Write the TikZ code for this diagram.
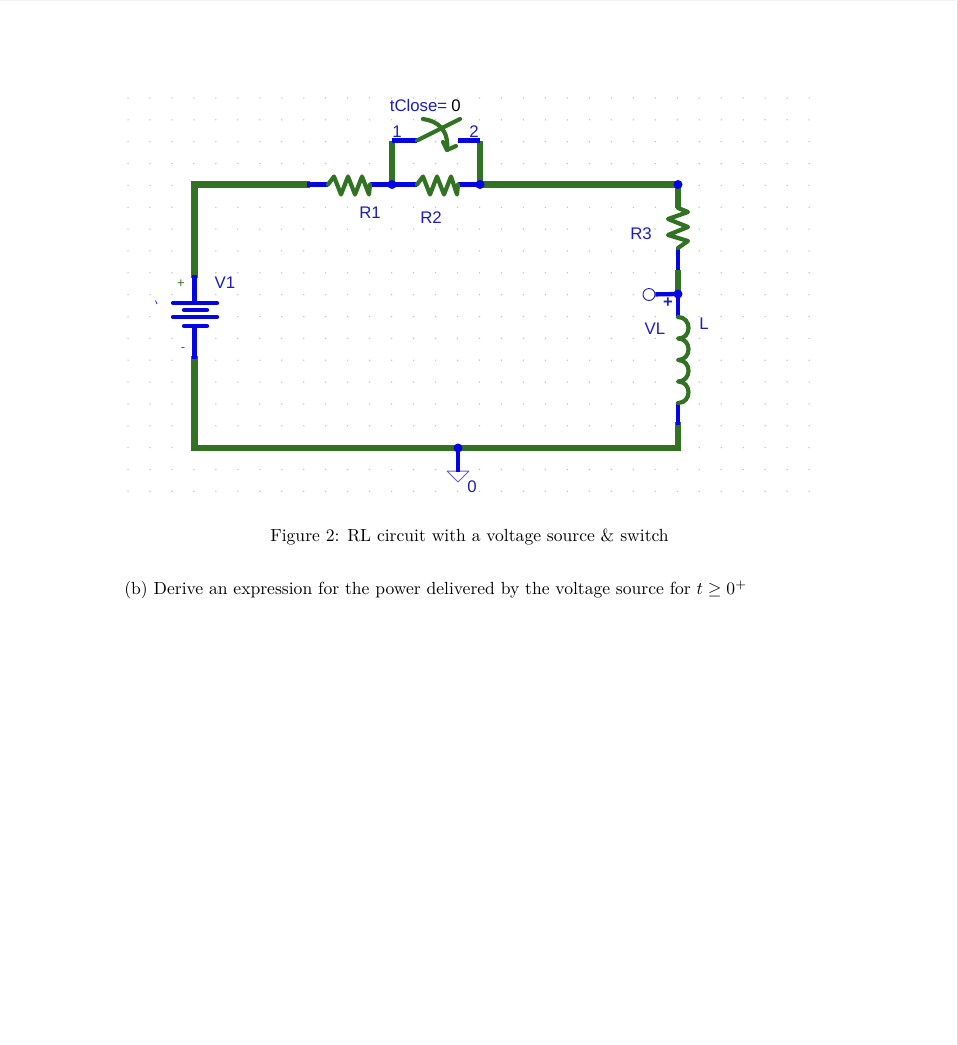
\documentclass[tikz,border=0pt]{standalone}
\usepackage{fontspec}
\newfontfamily\labelfont{Liberation Sans}
\usetikzlibrary{arrows.meta}
\definecolor{wiregreen}{RGB}{50,115,35}
\definecolor{wireblue}{RGB}{5,5,225}
\definecolor{labelblue}{RGB}{30,30,190}
\definecolor{griddot}{RGB}{190,190,190}
\tikzset{
 greenw/.style={draw=wiregreen,line width=6.5pt},
 bluew/.style={draw=wireblue,line width=4.3pt},
 part/.style={draw=wiregreen,line width=4.2pt,line join=round,line cap=round},
 plate/.style={draw=wireblue,line width=4.3pt,line cap=round},
 junction/.style={circle,fill=wireblue,inner sep=0pt,minimum size=9pt},
 lab/.style={font=\labelfont\fontsize{16.8}{18}\selectfont,text=labelblue,inner sep=0pt},
 smalllab/.style={font=\labelfont\fontsize{13}{14}\selectfont,text=wiregreen,inner sep=0pt},
 doc/.style={inner sep=0pt,scale=1.757,anchor=west}
}
\begin{document}
\begin{tikzpicture}[x=1pt,y=-1pt]
\useasboundingbox (0,0) rectangle (958,1045);
\fill[white] (0,0) rectangle (958,1045);
\draw[griddot!60,line width=1pt] (957.5,0) -- (957.5,1045);
\draw[griddot!20,line width=1pt] (0,0.5) -- (958,0.5);
% grid
\foreach \i in {0,...,31}{\foreach \j in {0,...,18}{
 \fill[griddot] ({128+21.97*\i},{98+21.85*\j}) circle (0.75);}}
% corners and junctions
\coordinate (tl) at (194.5,184.5);
\coordinate (tr) at (678,184.5);
\coordinate (bl) at (194.5,448);
\coordinate (br) at (678,448);
\coordinate (a1) at (307,184.5);
\coordinate (r1a) at (328,184.5);
\coordinate (r1b) at (370,184.5);
\coordinate (j1) at (392,184.5);
\coordinate (r2a) at (417,184.5);
\coordinate (r2b) at (458,184.5);
\coordinate (j2) at (480,184.5);
\coordinate (s1t) at (392,140.5);
\coordinate (s2t) at (480,140.5);
\coordinate (s1) at (417,140.5);
\coordinate (s2) at (458,140.5);
\coordinate (r3a) at (678,208);
\coordinate (r3b) at (678,248);
\coordinate (w3) at (678,270);
\coordinate (jl) at (678,294);
\coordinate (la) at (678,317);
\coordinate (lb) at (678,403);
\coordinate (w4) at (678,425);
\coordinate (v1a) at (194.5,275);
\coordinate (p1) at (194.5,303);
\coordinate (p4) at (194.5,326);
\coordinate (v1b) at (194.5,359);
\coordinate (jg) at (458,448);
\coordinate (gt) at (458,472);
% green wires
\draw[greenw,line cap=rect] (v1a) -- (tl) -- (a1);
\draw[greenw] (j2) -- (tr);
\draw[greenw] (tr) -- (r3a);
\draw[greenw] (w3) -- (jl);
\draw[greenw,line cap=rect] (w4) -- (br) -- (bl) -- (v1b);
\draw[greenw] (j1) -- (s1t);
\draw[greenw] (j2) -- (s2t);
% blue wires
\draw[bluew] (a1) -- (r1a);
\draw[bluew] (r1b) -- (r2a);
\draw[bluew] (r2b) -- (j2);
\draw[bluew] (s1t) -- (s1);
\draw[bluew] (s2) -- (s2t);
\draw[bluew] (r3b) -- (w3);
\draw[bluew] (jl) -- (la);
\draw[bluew] (lb) -- (w4);
\draw[bluew] (v1a) -- (p1);
\draw[bluew] (p4) -- (v1b);
% resistors
\draw[part] (r1a) -- ++(6,-8) -- ++(7,18) -- ++(7,-18) -- ++(7,18) -- ++(7,-18) -- ++(7,18) -- (r1b);
\draw[part] (r2a) -- ++(6,-8) -- ++(7,18) -- ++(7,-18) -- ++(7,18) -- ++(7,-18) -- ++(6,18) -- (r2b);
\draw[part] (r3a) -- ++(10,4) -- ++(-20,7) -- ++(20,8) -- ++(-20,8) -- ++(20,6) -- (r3b);
% switch
\draw[part] (s1) -- (460,119);
\draw[part] (423,119) .. controls (438,121) and (449,130) .. (447,150);
\draw[part] (443,142) -- (447,150) -- (456,146);
% inductor
\draw[part] (la) .. controls (692,317) and (692,339) .. (678,338.5)
 .. controls (692,338.5) and (692,360) .. (678,360)
 .. controls (692,360) and (692,381.5) .. (678,381.5)
 .. controls (692,381.5) and (692,403) .. (lb);
% battery plates
\draw[plate] (173,303) -- (217,303);
\draw[plate] (184,310) -- (207,310);
\draw[plate] (173,317) -- (217,317);
\draw[plate] (184,326) -- (207,326);
\draw[wireblue,line width=0.7pt] (155.5,300.5) -- (157,304);
% ground
\draw[labelblue!70,line width=1pt,line join=round] (447,471) -- (469,471) -- (458,482) -- cycle;
\draw[bluew] (jg) -- (gt);
% probe
\node[circle,draw=labelblue,line width=0.9pt,fill=white,inner sep=0pt,minimum size=12pt] (probe) at (649,294.5) {};
\draw[bluew] (probe) -- (jl);
% junction dots
\node[junction] (d1) at (j1) {};
\node[junction] (d2) at (j2) {};
\node[junction] (d3) at (tr) {};
\node[junction] (d4) at (jl) {};
\node[junction] (d5) at (jg) {};
% labels
\node[lab,anchor=east] (tc) at (447.5,105.8) {tClose=};
\node[lab,text=black] (tc0) at (456,105.8) {0};
\node[lab] (n1) at (397,131.8) {1};
\node[lab] (n2) at (474,131.8) {2};
\node[lab] (lr1) at (370,212.8) {R1};
\node[lab] (lr2) at (431,217.8) {R2};
\node[lab] (lr3) at (641,233.8) {R3};
\node[lab] (lv1) at (225,282.8) {V1};
\node[lab] (lvl) at (655,328.8) {VL};
\node[lab] (ll) at (704,323.8) {L};
\node[lab,font=\labelfont\bfseries\fontsize{16.5}{18}\selectfont] (lp) at (668,302.5) {+};
\node[lab] (lg) at (472,486.8) {0};
\node[smalllab] (vp) at (181,283.5) {+};
\node[smalllab] (vm) at (183,349.5) {-};
% document text
\node[doc] (cap) at (270,537) {Figure 2: RL circuit with a voltage source \& switch};
\node[doc] (qb) at (124,590) {(b) Derive an expression for the power delivered by the voltage source for $t\geq 0^{+}$};
\end{tikzpicture}
\end{document}
